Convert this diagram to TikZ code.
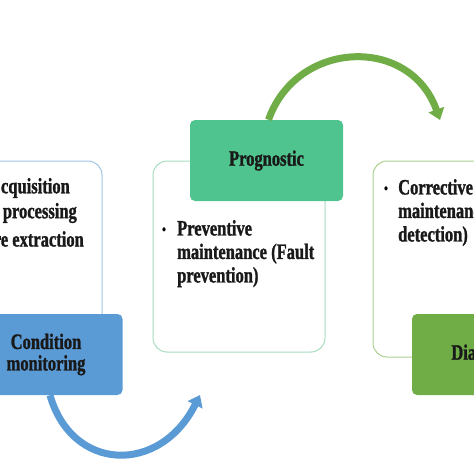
\documentclass[tikz,border=0pt]{standalone}
\usepackage{fontspec}
\setmainfont{Liberation Serif}[FakeStretch=0.75, BoldFeatures={FakeBold=1.2}]
\usepackage{xcolor}
\usetikzlibrary{arrows.meta, positioning}

\definecolor{cmblue}{RGB}{91,155,213}
\definecolor{proggreen}{RGB}{80,196,142}
\definecolor{diaggreen}{RGB}{112,173,71}
\definecolor{acqline}{RGB}{160,196,228}
\definecolor{progline}{RGB}{168,220,192}
\definecolor{diagline}{RGB}{172,208,146}

\begin{document}
\begin{tikzpicture}[x=1pt, y=-1pt,
    panel/.style={draw, line width=1pt, rounded corners=14pt, fill=white},
    tagbox/.style={rounded corners=5pt, minimum width=153pt, minimum height=81pt,
        align=center, text=black!90, font=\bfseries\fontsize{22}{21.5}\selectfont},
    txt/.style={inner sep=0pt, align=left, text=black!90, font=\bfseries\fontsize{22}{23.5}\selectfont},
    bul/.style={inner sep=0pt, anchor=base, font=\bfseries\fontsize{14}{14}\selectfont},
    flowarrow/.style={line width=7pt, -{Triangle[length=11pt, width=16pt]}}]
    \clip (0,0) rectangle (474,474);

    % Cadres blancs
    \node[panel, draw=acqline, minimum width=172pt, minimum height=190pt] (acqpanel) at (16,256) {};
    \node[panel, draw=progline, minimum width=172pt, minimum height=191pt] (progpanel) at (239,256.5) {};
    \node[panel, draw=diagline, minimum width=172pt, minimum height=196pt] (diagpanel) at (459,259) {};

    % Textes des cadres
    \foreach \t/\x/\y [count=\i] in {cquisition/70/188, processing/77/213, re extraction/84/239}
        \node[txt, anchor=east] (acq\i) at (\x,\y) {\t};

    \node[txt, anchor=north west] (progtext) at (177,220) {Preventive\\maintenance (Fault\\prevention)};
    \node[bul] (progbul) at (164,234) {\textbullet};

    \node[txt, anchor=north west] (diagtext) at (398,179) {Corrective\\maintenance (Fault\\detection)};
    \node[bul] (diagbul) at (386,193) {\textbullet};

    % Etiquettes colorees
    \node[tagbox, fill=cmblue] (cmbox) at (46,354.5) {Condition\\monitoring};
    \node[tagbox, fill=proggreen] (progbox) at (266.5,160.5) {Prognostic};
    \node[tagbox, fill=diaggreen] (diagbox) at (488.5,354.5) {Diagnostic};

    % Fleches courbes
    \coordinate (cmtip) at (200,395);
    \coordinate (progtip) at (440,120);
    \draw[flowarrow, cmblue] ([xshift=4pt]cmbox.south) .. controls +(22,77) and +(-40,80) .. (cmtip);
    \draw[flowarrow, diaggreen] ([xshift=2pt]progbox.north) .. controls +(28,-80) and +(-30,-85) .. (progtip);
\end{tikzpicture}
\end{document}
